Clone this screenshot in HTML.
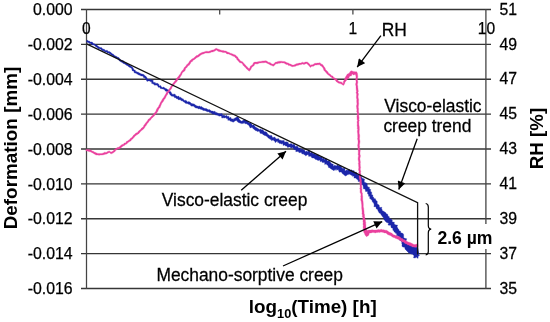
<!DOCTYPE html>
<html><head><meta charset="utf-8"><title>Creep chart</title>
<style>html,body{margin:0;padding:0;background:#fff;} svg{display:block;}</style>
</head><body>
<svg width="550" height="322" viewBox="0 0 550 322">
<rect width="550" height="322" fill="#fff"/>
<defs><marker id="ah" viewBox="0 0 10 10" refX="10" refY="5" markerWidth="9" markerHeight="8" markerUnits="userSpaceOnUse" orient="auto"><path d="M0,0 L10,5 L0,10 z" fill="#000"/></marker></defs>
<line x1="81" y1="9.50" x2="491" y2="9.50" stroke="#363636" stroke-width="1.4"/>
<line x1="81" y1="44.38" x2="491" y2="44.38" stroke="#363636" stroke-width="1.4"/>
<line x1="81" y1="79.25" x2="491" y2="79.25" stroke="#363636" stroke-width="1.4"/>
<line x1="81" y1="114.12" x2="491" y2="114.12" stroke="#363636" stroke-width="1.4"/>
<line x1="81" y1="149.00" x2="491" y2="149.00" stroke="#363636" stroke-width="1.4"/>
<line x1="81" y1="183.88" x2="491" y2="183.88" stroke="#363636" stroke-width="1.4"/>
<line x1="81" y1="218.75" x2="491" y2="218.75" stroke="#363636" stroke-width="1.4"/>
<line x1="81" y1="253.62" x2="491" y2="253.62" stroke="#363636" stroke-width="1.4"/>
<line x1="81" y1="288.50" x2="491" y2="288.50" stroke="#363636" stroke-width="1.4"/>
<line x1="86.5" y1="9" x2="86.5" y2="289" stroke="#444" stroke-width="1.25"/>
<line x1="485.9" y1="9" x2="485.9" y2="289" stroke="#444" stroke-width="1.3"/>
<line x1="219.7" y1="9" x2="219.7" y2="14.5" stroke="#444" stroke-width="1.25"/>
<line x1="352.9" y1="9" x2="352.9" y2="14.5" stroke="#444" stroke-width="1.25"/>
<polygon points="86.4,41.9 87.7,42.5 88.7,42.7 89.6,43.4 90.7,43.6 91.6,44.2 92.5,45.0 93.7,45.1 94.7,45.6 95.5,46.4 96.4,47.1 97.4,47.7 98.2,48.7 99.4,48.8 100.6,49.1 101.4,49.9 102.1,50.7 103.3,50.8 104.1,51.5 105.1,52.0 106.4,52.0 107.3,52.9 108.5,52.9 109.4,53.7 110.4,54.2 111.2,55.0 112.3,55.6 113.0,56.7 114.2,57.2 115.1,57.9 116.2,58.1 117.0,58.6 118.0,59.0 118.6,59.9 119.2,60.7 120.1,61.2 120.8,62.1 121.9,62.3 122.7,63.0 123.8,63.7 125.0,64.1 125.9,64.9 127.0,65.4 128.0,65.9 128.6,66.8 129.5,67.3 130.6,67.7 131.4,68.3 131.9,69.3 132.0,70.4 132.8,70.9 134.0,71.3 134.1,72.8 135.3,73.1 136.4,73.6 137.3,74.1 138.2,74.7 139.2,75.1 140.2,75.6 141.2,76.0 142.2,76.0 143.1,76.2 143.5,77.5 144.5,77.8 145.3,78.6 145.7,79.3 146.4,80.3 147.0,81.4 148.4,80.9 149.4,81.0 150.0,81.3 150.6,81.7 151.6,81.8 151.7,83.5 153.0,83.8 153.9,84.5 154.8,85.3 156.1,84.9 157.0,85.3 157.8,86.2 158.3,87.3 159.7,87.3 160.3,88.5 161.6,88.7 162.9,88.9 164.1,89.3 164.9,90.4 165.8,91.2 166.9,91.4 168.3,91.3 168.6,92.7 169.4,93.5 170.0,94.7 170.8,95.5 171.8,96.2 173.0,96.2 174.0,96.6 174.5,97.8 175.8,97.7 176.5,98.7 177.6,98.7 178.2,99.7 179.4,99.7 180.5,99.7 181.1,100.8 182.3,100.7 183.0,101.6 183.9,102.0 184.8,102.6 185.6,103.4 186.6,103.6 187.9,103.7 188.9,104.4 190.0,104.6 190.8,105.8 191.8,106.2 193.2,106.0 194.2,106.7 195.1,107.7 196.3,108.1 197.6,108.2 198.6,108.9 199.9,108.7 200.9,109.5 202.1,109.5 202.9,110.4 204.1,110.4 205.3,110.7 206.3,111.2 207.4,111.7 208.7,111.7 209.6,112.5 210.8,112.8 211.8,113.6 212.9,114.2 214.2,114.0 215.1,114.8 216.1,115.1 217.2,115.3 218.2,115.5 219.0,116.2 220.2,115.9 221.4,116.1 221.8,118.1 223.3,117.8 224.6,118.0 226.0,117.5 226.6,118.8 227.7,118.6 227.9,120.4 229.3,119.9 229.8,120.8 230.6,121.2 231.9,121.6 233.1,122.3 234.3,121.6 235.3,120.7 236.6,120.7 236.7,120.2 236.7,120.0 237.0,120.2 237.1,121.1 237.6,122.0 238.5,122.5 240.0,123.1 241.3,123.6 242.8,123.5 243.8,123.2 244.0,122.3 244.4,122.9 244.9,123.7 246.5,123.8 247.4,124.5 248.5,125.0 249.2,125.9 249.7,127.0 250.2,128.0 252.1,127.3 252.7,128.3 253.6,128.9 254.5,129.7 255.3,130.6 256.4,130.7 257.3,131.6 258.5,131.3 259.6,131.5 260.0,133.3 261.2,133.4 262.3,133.7 263.1,134.7 264.0,135.0 264.5,135.5 265.6,135.7 266.5,136.3 267.5,136.9 268.2,138.0 269.2,138.4 269.9,139.3 271.1,139.5 271.6,140.8 273.3,139.8 273.9,140.9 274.9,141.3 275.3,142.8 277.3,140.8 277.7,142.4 278.8,142.5 279.4,143.6 280.6,143.5 281.4,144.1 282.8,143.5 283.1,145.5 284.6,145.1 285.6,145.9 286.8,146.1 287.6,147.5 289.1,147.0 290.2,147.0 290.9,148.2 292.3,147.5 293.3,148.0 293.8,149.4 294.8,149.7 295.8,149.8 295.8,151.7 297.2,151.4 298.4,151.4 299.0,152.7 300.4,152.4 301.4,152.6 302.0,154.1 303.3,153.7 304.0,154.7 305.1,154.7 305.7,156.0 307.3,154.7 308.4,154.7 308.7,156.4 309.9,156.2 311.0,156.3 311.7,157.7 312.9,158.0 314.1,158.1 315.0,159.2 316.0,159.4 316.8,159.7 317.5,160.3 318.4,160.5 320.0,160.1 320.2,161.8 321.9,161.2 322.2,162.6 323.6,162.4 324.7,162.6 324.7,164.6 326.5,163.8 326.8,165.0 327.9,165.2 328.2,166.3 328.5,167.5 329.5,167.8 331.1,168.9 332.7,169.9 334.0,170.8 335.4,169.1 335.8,170.4 336.5,168.6 336.7,170.3 338.3,169.4 338.7,170.9 339.3,172.2 340.8,172.0 341.9,172.4 342.2,173.6 343.6,174.6 345.3,176.1 346.6,175.4 347.8,174.6 348.2,174.8 348.6,174.3 349.6,174.2 350.5,174.7 351.3,175.3 352.3,175.5 352.7,176.6 353.7,176.1 354.2,176.7 353.9,178.1 355.5,178.0 356.4,178.7 357.1,179.6 358.2,180.1 358.1,181.6 359.4,181.6 360.9,181.8 360.5,183.3 360.6,184.7 362.6,184.8 363.1,185.9 363.3,187.2 363.3,188.8 365.0,189.0 365.4,190.2 365.5,191.5 367.6,191.5 367.5,192.9 367.7,194.1 368.7,194.8 368.5,196.2 370.1,196.6 369.5,198.2 370.6,198.9 371.4,199.8 372.2,200.7 372.4,202.0 373.5,202.7 373.9,203.8 374.2,205.1 373.9,206.7 375.8,206.7 376.1,207.8 376.3,208.9 377.5,209.3 377.8,210.3 378.3,211.3 378.8,212.4 379.7,213.2 380.7,213.8 381.2,214.9 381.9,215.7 382.5,216.7 383.2,217.6 383.9,218.5 384.0,219.8 384.8,220.6 385.5,221.5 386.3,222.3 387.4,222.8 388.7,223.1 388.0,225.0 389.2,225.3 391.0,225.2 390.9,226.6 391.1,227.7 392.4,227.9 392.9,228.8 392.8,230.2 393.8,230.8 394.2,231.9 395.2,232.4 395.7,233.4 397.0,233.7 396.3,235.4 397.9,235.7 398.7,236.5 398.6,237.9 399.9,238.4 399.2,240.1 400.4,240.6 401.3,241.2 401.8,242.0 401.7,243.3 402.1,244.5 401.9,246.0 402.7,247.1 405.0,247.3 405.0,249.1 406.3,249.8 407.3,250.9 408.3,251.6 408.7,253.1 410.3,252.7 411.3,253.5 412.5,253.5 412.9,254.4 413.4,255.2 414.1,255.8 413.4,257.7 415.0,258.1 419.8,255.1 418.2,254.7 418.7,253.0 418.0,251.7 417.1,250.5 416.4,249.1 414.9,248.4 413.9,247.5 412.2,247.8 411.6,246.6 411.1,245.2 410.4,244.7 408.5,245.4 408.8,243.9 407.6,244.0 406.4,243.5 407.0,242.2 405.5,241.7 406.3,240.3 406.7,238.7 404.7,238.3 403.6,237.5 403.7,236.0 403.6,234.6 403.1,233.6 401.7,233.1 400.6,232.4 400.5,231.1 399.0,230.8 398.9,229.6 398.1,228.8 397.7,227.8 397.0,227.0 397.6,225.1 396.0,225.0 394.8,224.6 394.2,223.7 394.4,222.2 392.9,222.1 392.1,221.5 392.3,220.0 391.5,219.3 390.4,218.8 389.2,218.3 389.4,216.8 388.3,216.2 387.8,215.2 387.5,214.0 386.2,213.7 385.7,212.6 384.6,212.0 383.9,211.2 382.5,210.9 382.2,209.7 381.6,208.8 381.9,207.3 380.0,207.5 379.4,206.7 379.3,205.5 378.7,204.7 377.7,204.2 377.1,203.2 377.4,201.7 376.6,200.8 375.7,200.0 375.5,198.8 373.8,198.5 373.7,197.2 372.7,196.5 372.9,195.1 371.4,194.6 371.8,193.1 371.5,191.9 370.4,191.3 370.8,189.6 369.3,189.1 369.6,187.4 368.2,186.9 367.3,186.0 367.4,184.5 367.0,183.4 365.9,182.7 364.4,182.3 364.2,181.0 364.6,179.1 363.1,178.5 361.9,177.9 361.6,176.4 360.5,176.0 359.5,175.4 358.7,174.7 357.4,174.6 356.9,173.3 356.2,172.0 354.5,172.5 354.0,170.4 352.7,170.9 351.8,169.8 350.5,170.2 349.5,169.6 347.9,170.3 346.4,170.0 346.0,170.6 345.7,170.8 345.5,170.8 344.8,170.6 345.2,168.2 343.5,168.3 342.0,168.2 341.6,166.7 340.4,166.0 338.8,165.9 338.1,164.5 336.1,166.0 334.7,164.9 334.0,166.1 333.3,166.2 333.3,164.4 333.1,163.9 331.7,164.0 331.2,162.9 330.3,162.3 329.7,161.3 328.6,160.8 327.1,161.1 326.9,159.5 326.2,158.5 324.2,159.6 324.0,157.9 322.2,158.6 322.1,156.6 320.7,156.8 319.5,156.4 318.8,155.2 317.5,154.9 316.2,154.9 315.2,153.9 314.2,153.4 313.0,153.7 312.4,152.5 311.6,152.1 310.1,153.0 309.8,151.2 308.9,150.7 307.3,151.8 306.6,151.0 305.1,151.8 304.6,150.1 303.5,150.1 302.7,149.3 301.8,149.1 300.5,149.7 300.4,147.7 299.1,148.0 298.2,147.7 297.7,146.2 296.5,146.2 295.1,146.6 294.7,144.6 293.6,144.2 292.3,144.7 291.5,143.6 290.4,143.7 288.8,144.3 288.2,142.5 287.2,141.9 286.0,141.8 284.5,142.3 284.2,140.4 283.1,140.4 281.9,140.7 280.9,140.3 279.8,140.2 279.0,139.6 278.4,138.4 277.0,139.0 276.0,138.8 275.3,137.7 274.6,136.9 273.3,137.5 272.2,137.2 271.9,135.6 270.8,135.4 269.6,135.5 268.9,134.7 267.9,134.5 267.5,133.5 266.9,132.4 265.9,131.7 264.4,131.7 263.4,130.4 262.6,129.6 261.5,129.9 260.9,128.9 259.5,129.4 258.6,128.9 257.9,128.2 256.9,127.9 256.2,127.3 255.2,126.9 254.6,125.9 254.1,124.7 252.3,125.3 251.7,124.1 251.1,123.1 249.8,122.8 248.8,122.4 248.2,121.2 247.0,121.0 245.8,119.9 244.2,119.4 242.9,120.5 241.9,120.9 241.3,121.3 241.0,121.0 240.6,120.5 239.9,119.7 239.1,119.0 238.7,117.4 237.3,116.7 235.9,117.5 234.7,118.2 233.6,118.7 233.3,119.5 232.9,119.5 233.0,118.7 232.3,119.1 231.3,118.7 230.9,117.3 229.2,118.0 228.9,116.2 227.5,116.5 226.8,115.3 225.2,115.9 224.1,115.1 222.7,115.6 222.3,113.8 221.4,113.5 220.1,113.7 219.0,113.5 217.9,113.3 216.9,112.5 215.7,112.6 215.0,111.2 213.7,111.5 212.6,111.1 211.4,110.9 210.4,110.3 209.5,109.6 208.2,109.7 207.2,109.1 206.2,108.4 204.8,108.6 203.8,108.0 202.7,107.5 201.7,106.6 200.5,106.7 199.6,106.0 198.4,106.3 197.3,105.9 196.1,105.6 195.1,104.8 194.2,104.0 192.9,103.8 191.7,103.6 190.8,102.7 189.8,102.0 188.8,101.6 187.4,101.9 186.7,101.0 186.0,100.2 184.7,100.5 183.8,99.9 183.2,98.8 182.2,98.7 181.4,98.0 180.6,97.3 179.3,97.5 178.9,96.1 177.6,96.5 176.8,95.9 175.8,95.7 175.3,94.4 174.3,94.0 172.8,94.4 172.0,93.8 171.4,92.9 171.0,91.8 169.7,91.4 169.4,89.9 167.9,89.8 167.0,88.9 165.8,88.5 164.8,87.9 163.8,87.1 162.3,87.5 161.3,86.7 160.7,85.6 159.2,85.9 158.9,84.4 158.0,83.5 157.0,83.3 155.7,83.4 155.2,82.4 154.0,82.5 153.1,81.9 153.2,80.3 151.6,80.1 150.6,79.4 149.5,79.3 148.5,79.2 147.8,79.4 147.7,78.9 147.2,78.4 146.8,77.5 146.1,76.5 144.9,75.8 144.1,74.7 143.0,74.3 141.9,74.0 140.9,73.8 140.0,73.3 139.1,72.8 138.2,72.2 137.2,71.9 136.3,71.5 135.3,71.3 135.3,70.0 134.2,69.9 133.6,69.0 133.1,68.1 132.5,67.2 131.7,66.4 130.7,65.9 129.9,65.2 128.9,64.7 127.8,64.0 126.8,63.3 125.9,62.5 124.6,62.3 123.9,61.2 123.1,60.6 121.9,60.6 121.0,60.0 120.3,59.3 119.6,58.5 118.9,57.6 117.7,57.3 116.9,56.5 115.9,56.3 115.2,55.7 114.1,55.3 113.5,54.2 112.2,53.8 111.3,52.8 110.3,52.1 109.3,51.4 108.0,51.5 107.3,50.3 105.9,50.4 104.8,50.2 104.2,49.1 102.9,49.2 102.2,48.3 101.4,47.6 100.2,47.5 99.2,46.9 98.2,46.3 97.3,45.5 96.4,44.8 95.3,44.4 94.4,43.7 93.3,43.5 92.6,42.3 91.5,41.9 90.2,42.1 89.5,41.1 88.4,40.9 87.1,40.1" fill="#1b26aa" stroke="#1b26aa" stroke-width="0.3" stroke-linejoin="round"/>
<polygon points="404.5,243 410,245.5 414,247 418,247.3 418.7,252 418.2,258.6 417,258.2 415.5,254.6 411,254.2 408,252.2 406.3,250.5 404.8,248.5" fill="#1b26aa"/>
<polygon points="85.9,151.1 87.4,150.9 88.7,151.5 90.1,151.8 91.1,152.0 91.9,152.7 93.0,153.0 93.8,153.8 94.9,154.3 96.0,155.0 97.6,155.0 99.1,155.3 100.6,155.1 102.2,155.0 103.7,154.7 105.1,154.2 106.7,154.1 107.9,153.2 109.3,152.5 110.4,153.5 111.6,153.8 112.9,153.1 114.2,152.3 115.1,151.4 115.8,150.3 116.9,149.8 118.0,149.0 119.5,148.9 120.6,148.0 121.9,147.1 123.0,146.0 124.4,145.4 125.4,144.5 126.7,144.1 127.5,143.1 128.5,142.3 129.6,141.5 130.8,140.9 131.6,139.7 132.7,139.0 133.5,137.9 134.4,137.0 135.4,136.1 136.4,135.1 137.5,134.4 138.7,133.7 139.6,132.7 140.5,131.5 141.6,130.6 142.7,129.7 143.8,128.8 144.7,127.6 145.3,126.3 146.4,125.3 146.9,124.0 147.8,122.9 148.7,121.9 149.3,120.7 150.6,120.1 151.2,118.8 152.2,117.9 153.1,116.9 154.3,116.1 155.0,114.8 156.1,113.9 156.8,112.8 157.6,111.7 158.1,110.6 158.6,109.4 159.3,108.3 160.2,107.4 160.6,106.1 161.2,105.0 161.5,103.8 162.2,102.7 163.1,101.8 163.7,100.8 164.2,99.4 165.3,98.4 165.9,97.1 166.5,95.8 167.4,94.7 167.9,93.4 168.7,92.3 169.8,91.4 170.3,90.1 171.3,89.1 171.8,88.0 172.1,86.8 173.2,86.2 173.7,85.0 174.6,84.1 175.4,83.1 176.4,82.1 177.2,80.9 177.9,79.7 178.7,78.8 179.5,77.9 180.3,77.1 180.7,76.0 181.6,74.9 182.1,73.4 182.9,72.3 184.1,71.4 185.2,70.4 185.5,68.8 186.6,67.8 187.4,66.9 187.9,65.7 189.3,65.2 189.8,64.2 190.6,63.3 191.0,61.9 192.4,61.5 193.0,60.3 194.2,59.7 195.3,58.9 196.3,58.0 197.6,57.3 198.8,56.7 199.9,55.7 200.9,54.9 202.1,54.3 203.3,54.0 204.4,53.5 205.5,53.0 207.0,53.1 208.5,53.1 210.1,52.8 211.6,52.1 212.7,51.9 213.8,51.6 215.1,50.9 216.3,50.1 217.4,50.8 218.6,51.4 220.1,51.7 221.5,52.0 222.9,52.4 224.2,52.6 225.4,52.6 226.3,53.4 227.4,53.9 228.6,54.1 229.7,54.5 230.9,54.9 231.9,55.5 232.9,56.1 234.4,56.5 235.4,57.7 236.4,58.3 236.8,59.5 237.8,60.5 238.7,61.6 239.8,62.8 241.6,63.0 242.5,64.1 243.1,65.3 244.0,66.3 245.0,67.1 245.8,68.0 246.6,69.0 247.9,69.9 249.1,71.3 250.5,70.1 251.2,68.5 251.9,67.2 252.8,66.4 253.9,65.8 254.4,65.1 254.7,63.9 255.9,63.8 257.1,64.0 258.4,63.5 259.6,63.0 260.8,62.9 261.9,62.8 263.1,62.8 264.2,62.7 265.2,62.4 266.1,62.8 267.1,63.2 268.1,63.8 269.2,64.2 270.3,65.0 271.9,65.5 273.4,66.3 274.8,64.9 275.9,63.7 277.4,63.7 278.6,63.2 279.9,63.2 281.3,62.8 282.6,63.0 284.0,63.1 285.1,63.8 286.3,64.4 287.6,64.6 288.5,65.6 289.8,65.6 291.0,66.2 292.3,66.7 293.9,66.5 295.5,66.2 296.8,65.5 298.3,65.3 299.7,64.7 301.2,64.6 302.5,64.0 304.0,64.5 305.3,63.9 306.6,63.6 307.5,64.3 308.2,65.1 309.3,66.0 310.3,67.4 311.8,66.2 313.3,66.3 314.4,65.6 315.4,65.0 316.6,65.0 317.8,64.8 318.7,64.8 319.5,64.5 320.0,65.4 321.0,65.8 321.9,66.7 323.0,67.7 323.5,69.2 324.0,70.6 325.0,71.6 326.0,72.5 326.7,73.6 327.7,74.5 328.7,75.3 329.8,76.0 330.6,77.0 331.8,77.4 332.4,78.5 333.5,79.0 334.5,79.7 335.6,80.4 336.3,81.8 337.5,82.4 338.7,83.3 340.2,83.6 341.8,84.3 343.4,85.4 344.5,84.0 345.0,82.3 345.8,81.2 346.8,80.0 347.8,78.8 349.0,77.9 349.4,76.5 350.4,76.0 351.6,75.8 351.7,74.7 352.3,74.0 353.3,74.9 353.8,74.9 354.8,74.5 355.8,74.7 355.7,75.7 356.1,76.9 355.8,78.2 355.6,79.5 355.9,80.8 356.1,82.1 355.7,83.5 355.6,84.8 356.0,86.1 356.0,87.4 356.1,88.7 356.2,90.0 356.5,91.4 356.0,92.7 356.6,94.0 356.5,95.4 356.4,96.7 356.4,98.0 356.8,99.3 356.7,100.7 356.7,102.0 356.9,103.4 356.8,104.7 356.4,106.0 356.6,107.4 356.7,108.7 357.0,110.0 356.6,111.4 357.2,112.7 357.0,114.0 357.2,115.3 356.9,116.6 357.1,117.9 357.0,119.2 357.5,120.5 357.0,121.9 357.2,123.1 357.2,124.5 357.1,125.8 357.4,127.1 357.2,128.4 357.7,129.6 357.3,131.0 357.4,132.3 357.6,133.6 357.7,134.9 357.7,136.2 357.8,137.5 357.5,138.8 357.9,140.1 358.0,141.4 358.0,142.7 357.9,144.0 357.6,145.3 357.8,146.6 357.9,147.9 358.0,149.2 358.2,150.5 358.3,151.8 358.3,153.1 358.1,154.4 358.6,155.7 358.3,157.0 358.1,158.3 358.1,159.6 358.4,160.9 358.7,162.2 358.3,163.5 358.6,164.8 358.6,166.1 358.8,167.4 358.6,168.7 358.5,170.1 359.1,171.4 358.7,172.7 359.3,174.0 359.0,175.3 359.1,176.7 359.2,178.0 359.5,179.3 359.8,180.6 359.7,181.9 359.8,183.2 360.1,184.5 360.0,185.9 360.2,187.2 359.7,188.5 360.2,189.8 360.0,191.1 360.1,192.5 360.8,193.7 361.0,195.0 360.7,196.4 360.9,197.7 360.7,199.1 360.8,200.4 361.3,201.7 361.4,203.1 361.6,204.4 361.7,205.7 361.7,207.1 361.7,208.4 361.9,209.8 362.0,211.1 362.1,212.4 361.9,213.8 362.5,215.1 362.2,216.4 362.8,217.6 362.7,218.9 363.0,220.2 362.9,221.5 363.2,222.7 362.9,224.1 363.3,225.3 363.1,226.6 363.1,228.0 363.4,229.3 363.7,230.6 363.5,232.0 364.3,233.1 364.9,234.7 366.4,236.7 368.5,235.4 369.2,234.1 369.3,233.0 370.2,233.0 371.1,232.9 372.5,232.4 373.9,232.6 375.3,232.9 376.5,232.5 377.6,232.4 378.7,232.3 379.7,232.5 380.9,232.0 382.1,232.2 383.4,232.4 384.4,232.9 385.6,233.0 386.7,233.6 387.6,234.6 388.9,235.1 390.3,235.4 391.5,236.2 392.4,237.1 393.6,237.5 394.7,237.8 395.7,238.5 396.8,238.8 397.9,239.3 399.0,239.8 400.1,240.4 401.2,241.0 402.2,241.9 403.4,242.1 404.4,242.9 405.3,243.8 406.6,244.0 407.6,244.9 408.8,245.1 409.8,245.7 411.0,246.1 412.2,246.8 413.5,247.1 415.1,247.2 416.7,247.0 418.2,246.4 417.7,243.5 416.3,244.2 415.1,244.6 413.9,244.6 413.0,243.9 412.1,243.5 411.1,243.0 410.0,242.5 408.9,242.3 407.8,241.8 406.6,241.3 405.7,240.5 404.7,239.8 403.4,239.5 402.6,238.5 401.3,238.2 400.4,237.3 399.3,236.6 398.0,236.3 396.9,235.9 395.8,235.4 394.6,235.1 393.5,234.7 392.6,234.0 391.6,233.0 390.3,232.6 389.0,232.1 387.8,231.1 386.5,230.3 385.1,230.2 383.8,229.7 382.5,229.7 381.2,229.3 379.9,229.8 378.6,229.5 377.4,229.7 376.3,230.0 375.1,230.1 373.7,230.1 372.2,229.7 370.8,230.1 369.2,230.1 367.4,230.2 366.7,231.8 366.3,232.8 366.8,233.3 367.6,232.9 367.6,232.1 367.0,230.9 366.9,229.8 366.4,228.7 365.9,227.5 365.9,226.3 365.9,225.0 365.7,223.8 365.8,222.5 365.4,221.2 365.4,219.9 364.9,218.7 364.9,217.4 364.4,216.2 364.6,214.9 364.1,213.6 364.1,212.2 364.0,210.9 363.8,209.6 363.7,208.2 363.3,206.9 363.3,205.6 363.3,204.2 363.2,202.9 363.1,201.6 362.8,200.3 362.7,198.9 362.7,197.6 362.7,196.2 362.4,194.9 362.5,193.6 362.0,192.3 361.8,191.0 362.1,189.7 361.7,188.4 361.9,187.0 361.6,185.7 361.8,184.4 361.7,183.1 361.5,181.8 361.6,180.4 361.2,179.2 360.9,177.9 360.7,176.5 360.9,175.2 360.8,173.9 360.5,172.6 360.8,171.3 360.3,170.0 360.3,168.7 360.6,167.4 360.3,166.1 360.3,164.8 360.2,163.5 360.4,162.2 360.2,160.9 360.0,159.6 359.9,158.3 360.3,156.9 360.4,155.6 360.0,154.3 360.0,153.0 360.1,151.7 360.3,150.4 359.5,149.1 359.5,147.8 359.7,146.5 359.4,145.2 359.6,143.9 359.9,142.6 360.0,141.3 359.7,140.0 359.5,138.7 359.6,137.4 359.7,136.1 359.6,134.8 359.2,133.5 359.2,132.2 359.2,130.9 359.4,129.6 359.3,128.3 359.3,127.0 359.1,125.7 358.9,124.4 358.9,123.1 358.8,121.8 359.3,120.5 358.8,119.2 359.2,117.9 358.9,116.6 358.8,115.3 358.9,114.0 358.8,112.6 358.5,111.3 358.6,110.0 358.6,108.6 358.3,107.3 358.4,106.0 358.6,104.6 358.7,103.3 358.5,102.0 358.6,100.6 358.6,99.3 358.2,98.0 358.1,96.6 358.3,95.3 358.5,94.0 357.9,92.6 358.4,91.3 358.1,90.0 358.0,88.7 357.8,87.3 357.8,86.0 357.4,84.7 357.6,83.4 357.9,82.1 357.6,80.8 357.4,79.4 357.6,78.1 357.8,76.8 357.7,75.3 357.5,73.6 356.7,71.8 355.2,71.8 353.1,71.4 351.6,70.7 350.2,71.4 349.2,73.3 348.1,73.7 347.1,74.3 346.3,75.8 345.3,77.2 344.8,78.8 344.1,80.2 343.3,81.5 343.3,82.8 343.1,84.0 342.2,82.5 341.2,81.9 339.6,81.7 338.3,81.1 337.5,80.1 336.7,79.0 335.5,78.4 334.5,77.8 333.4,77.3 332.9,76.1 331.6,75.8 330.8,74.8 329.9,74.0 328.8,73.4 328.1,72.3 327.4,71.3 326.5,70.4 325.5,69.5 325.1,68.0 324.1,66.8 323.3,65.6 322.5,64.5 321.0,63.9 320.1,62.7 318.8,63.0 317.4,63.1 316.2,63.3 314.9,63.2 313.8,63.9 312.7,64.7 311.5,64.7 310.6,65.6 310.0,64.5 309.3,63.8 308.3,62.7 307.1,61.9 305.4,62.1 303.8,62.7 302.3,62.2 300.9,63.1 299.3,63.1 297.9,63.6 296.3,63.7 295.0,64.4 293.7,65.0 292.3,64.9 291.4,64.6 290.5,64.1 289.3,63.8 288.3,63.0 286.9,62.8 285.8,62.1 284.5,61.6 282.9,61.4 281.3,61.2 279.8,61.2 278.1,61.4 276.7,61.9 275.2,62.3 274.2,63.4 273.2,64.3 272.1,64.0 271.1,63.4 270.0,62.4 268.7,62.4 267.7,61.8 266.6,60.9 265.4,60.7 264.1,60.9 262.8,60.9 261.7,61.2 260.5,61.4 259.3,61.4 258.1,61.7 256.8,62.1 255.3,62.1 253.9,62.3 253.1,63.5 252.6,64.8 251.5,65.4 250.5,66.1 250.0,67.5 249.3,68.5 248.9,69.5 248.7,68.3 248.1,67.7 247.1,66.9 246.3,65.9 245.4,65.0 244.4,64.1 243.5,62.9 242.5,61.8 241.0,61.2 239.7,60.3 239.2,59.2 238.3,58.4 237.7,57.1 236.6,56.2 235.4,55.0 233.7,54.4 232.6,53.9 231.5,53.4 230.3,53.2 229.2,52.6 228.1,52.3 227.0,51.7 226.0,51.0 224.7,50.9 223.3,50.6 221.9,50.4 220.5,50.0 219.2,49.6 217.7,48.9 216.1,48.3 214.6,49.2 213.2,50.1 212.0,50.0 211.1,50.6 209.7,51.0 208.3,51.4 206.8,51.2 205.3,51.4 204.0,52.0 202.6,52.3 201.4,52.8 200.0,53.4 198.8,54.2 197.9,55.3 196.5,55.6 195.4,56.5 194.3,57.5 193.2,58.4 191.8,58.9 191.0,60.1 189.8,60.8 189.2,62.0 188.5,63.1 187.7,64.0 186.6,64.7 186.1,65.8 185.2,66.7 184.1,67.7 183.6,69.2 182.6,70.2 181.6,71.4 180.9,72.6 180.4,74.0 179.2,74.9 178.9,76.1 177.9,76.8 177.3,77.7 176.5,78.6 175.8,79.8 174.9,81.0 174.0,82.1 173.3,83.1 172.3,83.9 172.0,85.2 170.9,85.9 170.6,87.1 169.8,88.1 169.1,89.2 168.3,90.4 167.3,91.4 166.3,92.4 165.9,93.8 165.1,95.0 164.4,96.2 163.7,97.5 162.8,98.5 162.0,99.7 161.4,100.9 160.7,101.9 160.1,103.0 159.7,104.2 159.0,105.3 158.6,106.5 157.7,107.4 157.0,108.4 156.4,109.6 156.0,110.8 155.4,111.9 154.6,112.8 153.7,113.8 153.1,115.0 152.0,115.8 151.0,116.7 150.1,117.7 149.2,118.7 148.0,119.5 147.4,120.9 146.5,122.0 145.5,122.9 144.9,124.2 143.9,125.1 143.5,126.5 142.4,127.5 141.3,128.3 140.5,129.5 139.4,130.3 138.3,131.2 137.5,132.4 136.2,133.0 135.1,133.7 134.2,134.7 133.2,135.6 132.5,136.8 131.5,137.7 130.3,138.4 129.7,139.6 128.5,140.2 127.5,141.0 126.3,141.5 125.7,142.9 124.2,142.9 123.5,144.2 122.0,144.6 120.8,145.4 119.7,146.4 118.6,147.2 117.2,147.6 116.1,148.4 114.9,149.1 114.0,150.1 113.1,151.0 112.2,151.6 111.4,152.0 110.4,151.7 109.3,150.9 107.6,151.4 106.2,152.4 104.5,152.2 103.3,153.0 101.9,153.4 100.5,153.6 99.1,153.6 97.8,153.4 96.6,153.0 95.7,152.6 94.7,152.3 93.8,151.5 92.7,151.2 91.7,150.5 90.7,150.1 89.2,149.6 87.6,149.4 86.1,149.3" fill="#ea409e" stroke="#ea409e" stroke-width="0.3" stroke-linejoin="round"/>
<polyline points="86.5,43.9 417.6,202.6 417.6,254.5" fill="none" stroke="#111" stroke-width="1.3"/>
<line x1="380.9" y1="35.6" x2="357.2" y2="67.1" stroke="#000" stroke-width="1.3" marker-end="url(#ah)"/>
<line x1="417.2" y1="138.7" x2="398.8" y2="189.5" stroke="#000" stroke-width="1.3" marker-end="url(#ah)"/>
<line x1="241.2" y1="190.3" x2="286" y2="151.2" stroke="#000" stroke-width="1.3" marker-end="url(#ah)"/>
<line x1="283" y1="266" x2="382.2" y2="221.6" stroke="#000" stroke-width="1.3" marker-end="url(#ah)"/>
<path d="M425.7,203.5 Q428.3,203.8 428.3,207 L428.3,225.5 Q428.3,229 431.2,229.2 Q428.3,229.5 428.3,233 L428.3,251.5 Q428.3,254.6 425.7,254.8" fill="none" stroke="#000" stroke-width="1.2"/>
<rect x="434" y="224" width="60" height="25" fill="#fff"/>
<text x="72.6" y="15.1" font-family="'Liberation Sans', Arial, sans-serif" font-size="15.85" text-anchor="end" fill="#000" stroke="#000" stroke-width="0.25">0.000</text>
<text x="72.6" y="50.0" font-family="'Liberation Sans', Arial, sans-serif" font-size="15.85" text-anchor="end" fill="#000" stroke="#000" stroke-width="0.25">-0.002</text>
<text x="72.6" y="84.8" font-family="'Liberation Sans', Arial, sans-serif" font-size="15.85" text-anchor="end" fill="#000" stroke="#000" stroke-width="0.25">-0.004</text>
<text x="72.6" y="119.7" font-family="'Liberation Sans', Arial, sans-serif" font-size="15.85" text-anchor="end" fill="#000" stroke="#000" stroke-width="0.25">-0.006</text>
<text x="72.6" y="154.6" font-family="'Liberation Sans', Arial, sans-serif" font-size="15.85" text-anchor="end" fill="#000" stroke="#000" stroke-width="0.25">-0.008</text>
<text x="72.6" y="189.5" font-family="'Liberation Sans', Arial, sans-serif" font-size="15.85" text-anchor="end" fill="#000" stroke="#000" stroke-width="0.25">-0.010</text>
<text x="72.6" y="224.3" font-family="'Liberation Sans', Arial, sans-serif" font-size="15.85" text-anchor="end" fill="#000" stroke="#000" stroke-width="0.25">-0.012</text>
<text x="72.6" y="259.2" font-family="'Liberation Sans', Arial, sans-serif" font-size="15.85" text-anchor="end" fill="#000" stroke="#000" stroke-width="0.25">-0.014</text>
<text x="72.6" y="294.1" font-family="'Liberation Sans', Arial, sans-serif" font-size="15.85" text-anchor="end" fill="#000" stroke="#000" stroke-width="0.25">-0.016</text>
<text transform="translate(499.5,14.6) scale(1,1.035)" font-family="'Liberation Sans', Arial, sans-serif" font-size="15.8" fill="#000" stroke="#000" stroke-width="0.25">51</text>
<text transform="translate(499.5,49.5) scale(1,1.035)" font-family="'Liberation Sans', Arial, sans-serif" font-size="15.8" fill="#000" stroke="#000" stroke-width="0.25">49</text>
<text transform="translate(499.5,84.3) scale(1,1.035)" font-family="'Liberation Sans', Arial, sans-serif" font-size="15.8" fill="#000" stroke="#000" stroke-width="0.25">47</text>
<text transform="translate(499.5,119.2) scale(1,1.035)" font-family="'Liberation Sans', Arial, sans-serif" font-size="15.8" fill="#000" stroke="#000" stroke-width="0.25">45</text>
<text transform="translate(499.5,154.1) scale(1,1.035)" font-family="'Liberation Sans', Arial, sans-serif" font-size="15.8" fill="#000" stroke="#000" stroke-width="0.25">43</text>
<text transform="translate(499.5,189.0) scale(1,1.035)" font-family="'Liberation Sans', Arial, sans-serif" font-size="15.8" fill="#000" stroke="#000" stroke-width="0.25">41</text>
<text transform="translate(499.5,223.8) scale(1,1.035)" font-family="'Liberation Sans', Arial, sans-serif" font-size="15.8" fill="#000" stroke="#000" stroke-width="0.25">39</text>
<text transform="translate(499.5,258.7) scale(1,1.035)" font-family="'Liberation Sans', Arial, sans-serif" font-size="15.8" fill="#000" stroke="#000" stroke-width="0.25">37</text>
<text transform="translate(499.5,293.6) scale(1,1.035)" font-family="'Liberation Sans', Arial, sans-serif" font-size="15.8" fill="#000" stroke="#000" stroke-width="0.25">35</text>
<text transform="translate(86.3,33.6)" font-family="'Liberation Sans', Arial, sans-serif" font-size="15.6" text-anchor="middle" fill="#000" stroke="#000" stroke-width="0.25">0</text>
<text transform="translate(352.8,33.6)" font-family="'Liberation Sans', Arial, sans-serif" font-size="15.6" text-anchor="middle" fill="#000" stroke="#000" stroke-width="0.25">1</text>
<text transform="translate(486.5,33.6)" font-family="'Liberation Sans', Arial, sans-serif" font-size="15.6" text-anchor="middle" fill="#000" stroke="#000" stroke-width="0.25">10</text>
<text transform="translate(381.8,35.6) scale(1,1.075)" font-family="'Liberation Sans', Arial, sans-serif" font-size="17.4" fill="#000" stroke="#000" stroke-width="0.25">RH</text>
<text transform="translate(384.3,111.9) scale(1,1.075)" font-family="'Liberation Sans', Arial, sans-serif" font-size="17.4" fill="#000" stroke="#000" stroke-width="0.25">Visco-elastic</text>
<text transform="translate(383.4,132.4) scale(1,1.075)" font-family="'Liberation Sans', Arial, sans-serif" font-size="17.4" fill="#000" stroke="#000" stroke-width="0.25">creep trend</text>
<text transform="translate(161.8,206.0) scale(1,1.075)" font-family="'Liberation Sans', Arial, sans-serif" font-size="17.4" fill="#000" stroke="#000" stroke-width="0.25">Visco-elastic creep</text>
<text transform="translate(156.4,280.6) scale(1,1.075)" font-family="'Liberation Sans', Arial, sans-serif" font-size="17.4" fill="#000" stroke="#000" stroke-width="0.25">Mechano-sorptive creep</text>
<text transform="translate(437.4,243.6) scale(1,1.04)" font-family="'Liberation Sans', Arial, sans-serif" font-size="17.6" font-weight="bold" fill="#000">2.6 µm</text>
<text transform="translate(16.5,148) rotate(-90)" font-family="'Liberation Sans', Arial, sans-serif" font-size="18.9" font-weight="bold" text-anchor="middle" fill="#000">Deformation [mm]</text>
<text transform="translate(543,138.5) rotate(-90)" font-family="'Liberation Sans', Arial, sans-serif" font-size="18.7" font-weight="bold" text-anchor="middle" fill="#000">RH [%]</text>
<text transform="translate(248.8,313.3) scale(1,1.02)" font-family="'Liberation Sans', Arial, sans-serif" font-size="18.85" font-weight="bold" fill="#000">log<tspan font-size="12.8" dy="4.4">10</tspan><tspan dy="-4.4">(Time) [h]</tspan></text>
</svg>
</body></html>
